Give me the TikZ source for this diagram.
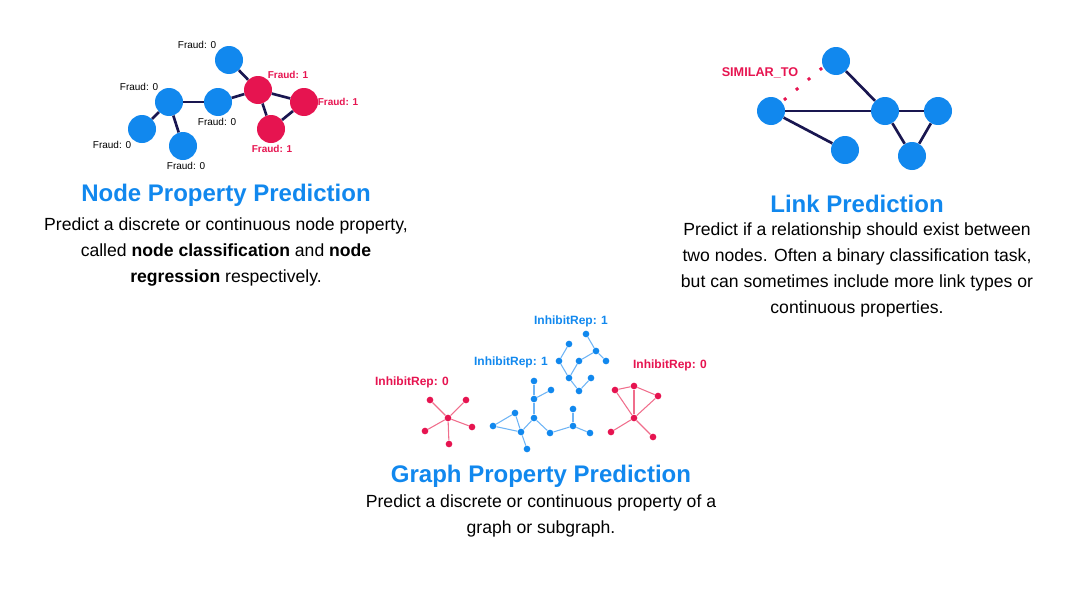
\documentclass[tikz,border=0pt]{standalone}
\usepackage{fontspec}
\setmainfont{Liberation Sans}
\begin{document}
\definecolor{nb}{RGB}{17,136,238}
\definecolor{nr}{RGB}{230,20,80}
\definecolor{ed}{RGB}{25,22,80}
\definecolor{lb}{RGB}{110,180,245}
\definecolor{lr}{RGB}{240,110,140}
\begin{tikzpicture}[x=0.75pt,y=-0.75pt,
 B/.style={circle,fill=nb,minimum size=21pt,inner sep=0},
 R/.style={circle,fill=nr,minimum size=21pt,inner sep=0},
 e/.style={draw=ed,line width=2pt},
 lab/.style={font=\fontsize{7.5}{9}\selectfont,inner sep=0},
 rlab/.style={font=\fontsize{7.5}{9}\selectfont\bfseries,text=nr,inner sep=0},
 title/.style={font=\fontsize{18}{21}\selectfont\bfseries,text=nb},
 body/.style={font=\fontsize{13.2}{19.5}\selectfont,align=center},
 sb/.style={circle,fill=nb,minimum size=5pt,inner sep=0},
 sr/.style={circle,fill=nr,minimum size=5pt,inner sep=0},
 eb/.style={draw=lb,line width=0.8pt},
 er/.style={draw=lr,line width=0.8pt},
 ml/.style={font=\fontsize{9}{11}\selectfont\bfseries,inner sep=0}]
\useasboundingbox (0,0) rectangle (1080,589);
% Node property graph
\node[B] (n1) at (229,60) {};
\node[R] (n2) at (258,90) {};
\node[R] (n3) at (304,102) {};
\node[R] (n4) at (271,129) {};
\node[B] (n5) at (169,102) {};
\node[B] (n6) at (218,102) {};
\node[B] (n7) at (142,129) {};
\node[B] (n8) at (183,146) {};
\begin{scope}[on background layer/.try]
\end{scope}
\draw[e] (n5)--(n6); \draw[e] (n6)--(n2); \draw[e] (n1)--(n2); \draw[e] (n2)--(n3);
\draw[e] (n2)--(n4); \draw[e] (n4)--(n3); \draw[e] (n5)--(n7); \draw[e] (n5)--(n8);
\node[lab] (f1) at (197,45) {Fraud: 0};
\node[lab] (f2) at (139,87) {Fraud: 0};
\node[rlab] (f3) at (288,75) {Fraud: 1};
\node[rlab] (f4) at (338,102) {Fraud: 1};
\node[lab] (f5) at (217,122) {Fraud: 0};
\node[rlab] (f6) at (272,149) {Fraud: 1};
\node[lab] (f7) at (112,145) {Fraud: 0};
\node[lab] (f8) at (186,166) {Fraud: 0};
\node[title] (t1) at (226,195) {Node Property Prediction};
\node[body,anchor=north] (b1) at (226,213) {Predict a discrete or continuous node property,\\called \textbf{node classification} and \textbf{node}\\\textbf{regression} respectively.};
% Link prediction
\node[B] (l1) at (836,61) {};
\node[B] (l2) at (771,111) {};
\node[B] (l3) at (885,111) {};
\node[B] (l4) at (938,111) {};
\node[B] (l5) at (845,150) {};
\node[B] (l6) at (912,156) {};
\draw[e] (l1)--(l3); \draw[e] (l2)--(l3); \draw[e] (l3)--(l4); \draw[e] (l3)--(l6);
\draw[e] (l4)--(l6); \draw[e] (l2)--(l5);
\coordinate (d1) at (784,100); \coordinate (d2) at (822,68);
\draw[nr,line width=2.2pt,dash pattern=on 2.2pt off 9.5pt] (d1)--(d2);
\node[rlab,font=\fontsize{9.5}{11}\selectfont\bfseries] (sim) at (760,73) {SIMILAR\_TO};
\node[title] (t2) at (857,204) {Link Prediction};
\node[body,anchor=north] (b2) at (857,218) {Predict if a relationship should exist between\\two nodes. Often a binary classification task,\\but can sometimes include more link types or\\continuous properties.};
% Graph property
\node[sr] (r0) at (448,418) {};
\node[sr] (r1) at (430,400) {};
\node[sr] (r2) at (466,400) {};
\node[sr] (r3) at (425,431) {};
\node[sr] (r4) at (472,427) {};
\node[sr] (r5) at (449,444) {};
\foreach \i in {1,...,5} \draw[er] (r0)--(r\i);
\node[ml,text=nr] (il1) at (412,382) {InhibitRep: 0};
\foreach \n/\x/\y in {a/493/426,b/515/413,c/521/432,d/527/449,e/534/418,f/534/399,g/534/381,h/551/390,i/550/433,j/573/426,k/573/409,l/590/433,m/586/334,n/596/351,o/606/361,p/579/361,q/569/344,r/559/361,s/569/378,t/579/391,u/591/378}
  \node[sb] (m\n) at (\x,\y) {};
\foreach \u/\v in {a/b,b/c,a/c,c/d,c/e,e/f,f/g,f/h,e/i,i/j,j/k,j/l,m/n,n/o,n/p,p/s,q/r,r/s,s/t,t/u}
  \draw[eb] (m\u)--(m\v);
\node[ml,text=nb] (il2) at (511,362) {InhibitRep: 1};
\node[ml,text=nb] (il3) at (571,321) {InhibitRep: 1};
\node[sr] (v0) at (634,418) {};
\node[sr] (v1) at (615,390) {};
\node[sr] (v2) at (634,386) {};
\node[sr] (v3) at (658,396) {};
\node[sr] (v4) at (611,432) {};
\node[sr] (v5) at (653,437) {};
\foreach \i in {1,...,5} \draw[er] (v0)--(v\i);
\draw[er] (v1)--(v2); \draw[er] (v2)--(v3);
\node[ml,text=nr] (il4) at (670,365) {InhibitRep: 0};
\node[title] (t3) at (541,476) {Graph Property Prediction};
\node[body,anchor=north] (b3) at (541,490) {Predict a discrete or continuous property of a\\graph or subgraph.};
\end{tikzpicture}
\end{document}
